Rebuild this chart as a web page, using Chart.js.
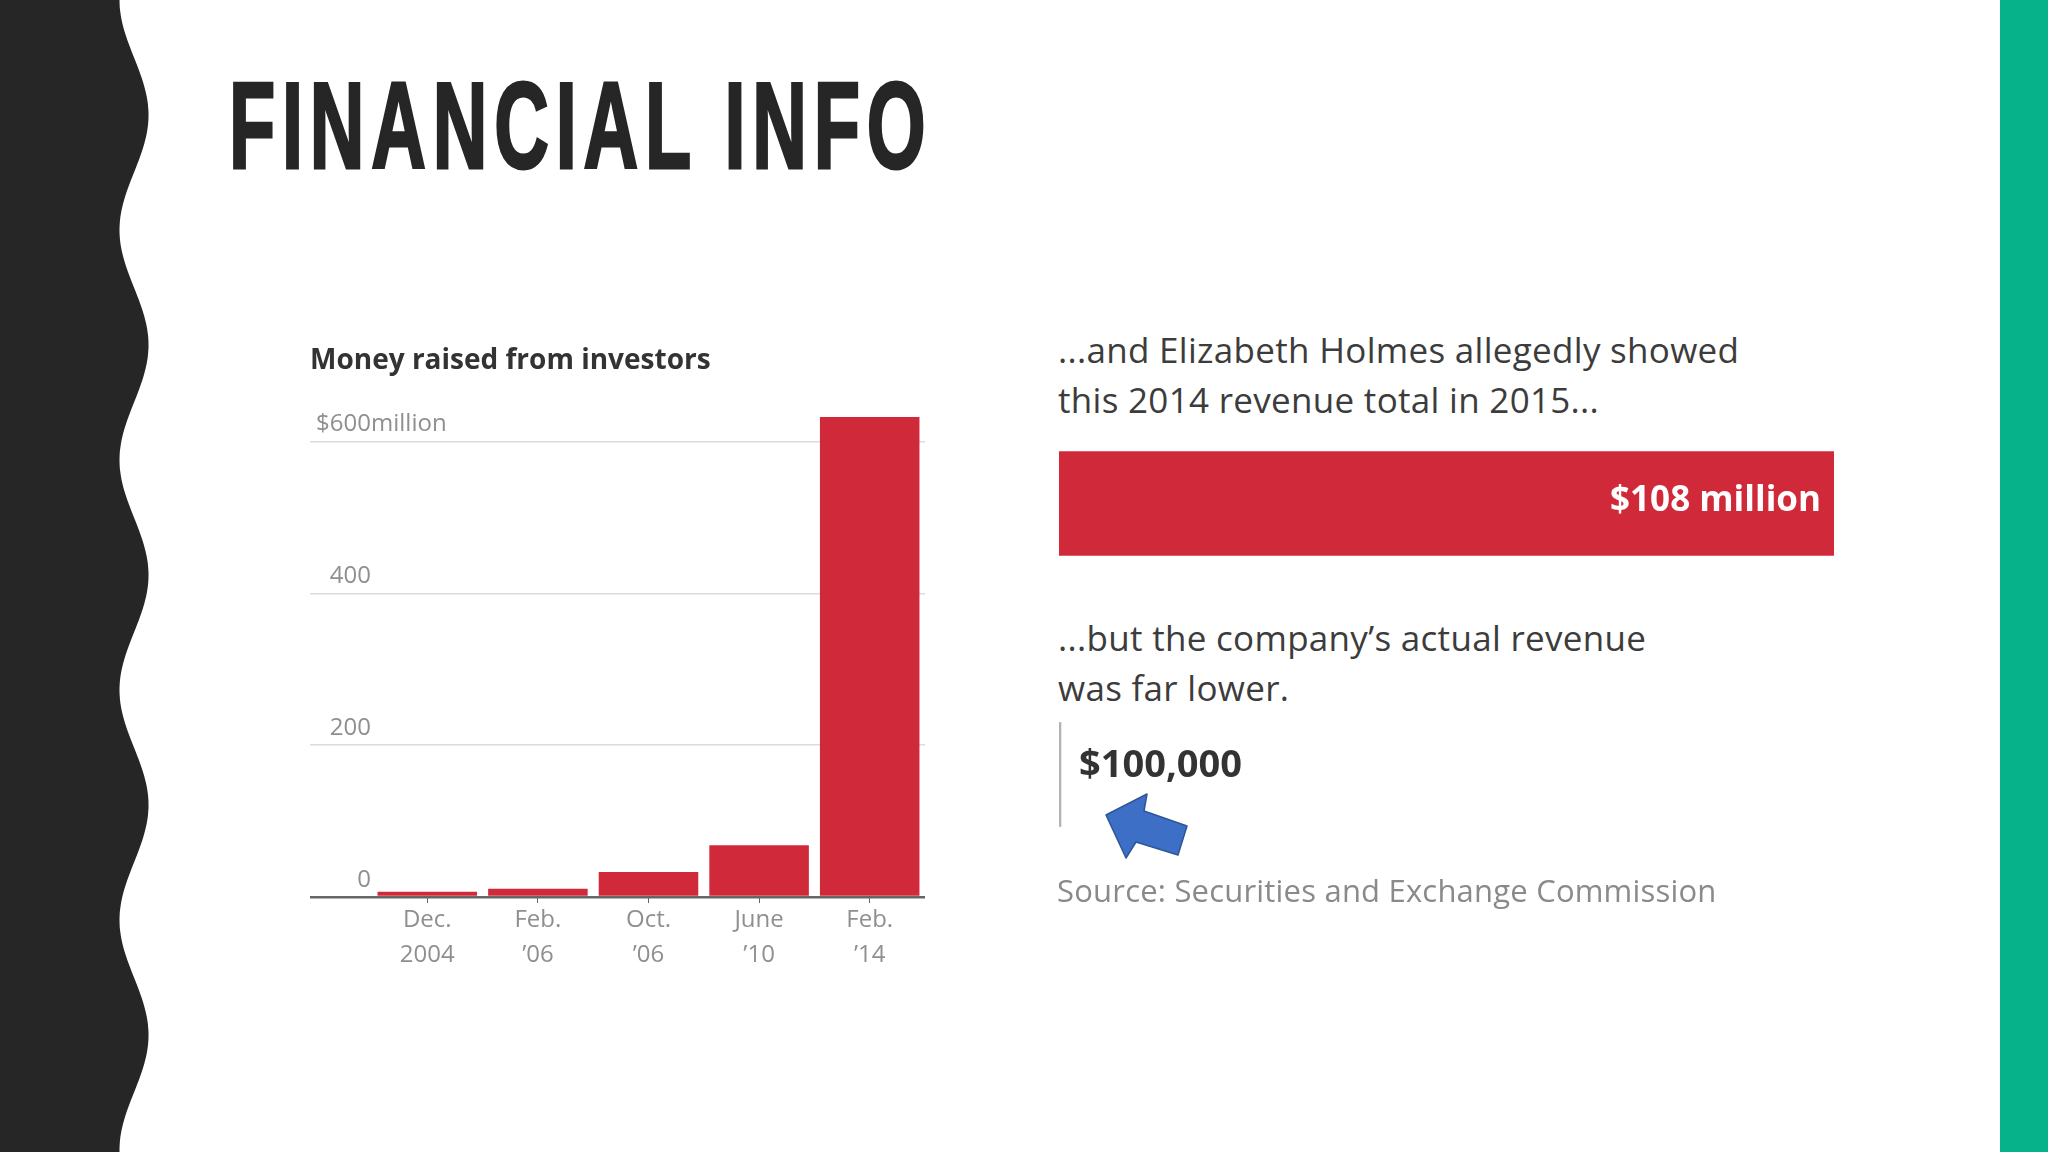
<!DOCTYPE html>
<html>
<head>
<meta charset="utf-8">
<script src="https://cdn.jsdelivr.net/npm/chart.js@4.4.1/dist/chart.umd.min.js"></script>
<style>
  html, body { margin: 0; padding: 0; }
  body { width: 2048px; height: 1152px; position: relative; overflow: hidden; background: #fff; font-family: "Open Sans", sans-serif; }
  #wave { position: absolute; left: 0; top: 0; }
  #green { position: absolute; left: 2000px; top: 0; width: 48px; height: 1152px; background: #05b28a; }
  h1 {
    position: absolute; left: 229px; top: 65px; margin: 0;
    font-family: "Liberation Sans Narrow", sans-serif; font-weight: bold;
    font-size: 122px; line-height: 122px; color: #262626;
    letter-spacing: 11px;
    transform-origin: 0 0; transform: scaleX(0.62);
    -webkit-text-stroke: 3px #262626; white-space: nowrap;
  }
  .note { position: absolute; left: 1058px; color: #3c3c3c; font-size: 35px; line-height: 50px; letter-spacing: 0.3px; white-space: nowrap; }
  #source { position: absolute; left: 1057px; top: 867px; color: #8a8a8a; font-size: 31px; line-height: 46px; letter-spacing: 0.2px; white-space: nowrap; }
  canvas { position: absolute; }
  #arrow { position: absolute; left: 0; top: 0; }
</style>
</head>
<body>
<svg id="wave" width="200" height="1152"><path id="wavePath" fill="#262626"/></svg>
<div id="green"></div>
<h1>FINANCIAL INFO</h1>

<canvas id="raised" width="615" height="660" style="left:310px; top:330px;"></canvas>

<div class="note" style="top:325px;">...and Elizabeth Holmes allegedly showed<br>this 2014 revenue total in 2015...</div>
<div class="note" style="top:613px;">...but the company’s actual revenue<br>was far lower.</div>
<canvas id="revenue" width="775" height="542" style="left:1059px; top:368px;"></canvas>
<div id="source">Source: Securities and Exchange Commission</div>

<svg id="arrow" width="2048" height="1152">
  <polygon points="1106,815 1147,794 1144,811 1187,826 1178,855 1136,842 1126,858"
           fill="#3d6fc6" stroke="#2e5597" stroke-width="1.5" stroke-linejoin="round"/>
</svg>

<script>
// money raised from investors, millions of dollars
const rounds = [['Dec.', '2004'], ['Feb.', '’06'], ['Oct.', '’06'], ['June', '’10'], ['Feb.', '’14']];
const raised = [6.9, 11, 33, 68, 632];
const yTicks = [0, 200, 400, 600];
const yTickText = ['0', '200', '400', '$600'];
const yUnit = 'million';

// revenue: shown vs actual, millions of dollars
const revenueCats = ['Shown for 2014', 'Actual 2014'];
const revenue = [108, 0.1];
const revenueText = ['$108 million', '$100,000'];

// decorative wavy edge on the left
let d = 'M0,0';
for (let y = 0; y <= 1152; y += 4) {
  const x = 134 + 14.5 * Math.cos(2 * Math.PI * (y - 115) / 230);
  d += ' L' + x.toFixed(1) + ',' + y;
}
d += ' L0,1152 Z';
document.getElementById('wavePath').setAttribute('d', d);

const red = '#d02a3a';
const labelFont = { family: 'Open Sans', size: 24 };

const yLabels = {
  id: 'yLabels',
  afterDraw(chart) {
    const scale = chart.scales.y;
    const c = chart.ctx;
    c.save();
    c.fillStyle = '#8f8f8f';
    c.font = '24px "Open Sans"';
    c.textBaseline = 'middle';
    yTicks.forEach((v, i) => {
      const py = scale.getPixelForValue(v) - 17;
      c.textAlign = 'right';
      c.fillText(yTickText[i], scale.right - 1, py);
      if (i === yTicks.length - 1) {
        c.textAlign = 'left';
        c.fillText(yUnit, scale.right - 1, py);
      }
    });
    c.restore();
  }
};

new Chart(document.getElementById('raised'), {
  type: 'bar',
  data: {
    labels: rounds,
    datasets: [{
      data: raised,
      backgroundColor: red,
      barPercentage: 0.9,
      categoryPercentage: 1
    }]
  },
  options: {
    responsive: false,
    animation: false,
    layout: { padding: 0 },
    plugins: {
      legend: { display: false },
      tooltip: { enabled: false },
      title: {
        display: true,
        text: 'Money raised from investors',
        align: 'start',
        color: '#333',
        font: { family: 'Open Sans', size: 28, weight: 'bold' },
        padding: { top: 14, bottom: 33.4 }
      }
    },
    scales: {
      x: {
        grid: { display: true, drawOnChartArea: false, offset: false, tickLength: 6, color: '#666' },
        border: { display: false },
        ticks: { color: '#8f8f8f', font: { ...labelFont, lineHeight: 1.45 }, padding: 0, maxRotation: 0 },
        afterFit(s) { s.height = 93; }
      },
      y: {
        min: 0,
        max: 640,
        ticks: { display: false },
        afterBuildTicks(s) { s.ticks = yTicks.map(v => ({ value: v })); },
        grid: {
          color: c => (c.tick && c.tick.value === 0 ? '#666' : '#dcdcdc'),
          lineWidth: c => (c.tick && c.tick.value === 0 ? 2.5 : 1.5),
          drawTicks: true,
          tickLength: 62
        },
        border: { display: false },
        afterFit(s) { s.width = 62; }
      }
    }
  },
  plugins: [yLabels]
});

const barLabels = {
  id: 'barLabels',
  afterDatasetsDraw(chart) {
    const c = chart.ctx;
    const bars = chart.getDatasetMeta(0).data;
    c.save();
    c.textBaseline = 'middle';
    c.font = 'bold 35px "Open Sans"';
    c.fillStyle = '#fff';
    c.textAlign = 'right';
    c.fillText(revenueText[0], bars[0].x - 13, bars[0].y - 2);
    c.font = 'bold 38px "Open Sans"';
    c.fillStyle = '#333';
    c.textAlign = 'left';
    c.fillText(revenueText[1], bars[1].x + 18, bars[1].y - 8);
    c.restore();
  }
};

new Chart(document.getElementById('revenue'), {
  type: 'bar',
  data: {
    labels: revenueCats,
    datasets: [{
      data: revenue,
      backgroundColor: [red, '#b3b3b3'],
      barThickness: 104,
      minBarLength: 2
    }]
  },
  options: {
    indexAxis: 'y',
    responsive: false,
    animation: false,
    layout: { padding: 0 },
    plugins: { legend: { display: false }, tooltip: { enabled: false } },
    scales: {
      x: { display: false, min: 0, max: 108 },
      y: { display: false }
    }
  },
  plugins: [barLabels]
});
</script>
</body>
</html>
